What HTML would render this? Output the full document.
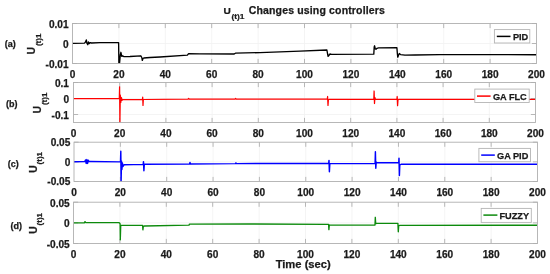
<!DOCTYPE html>
<html><head><meta charset="utf-8"><title>U(t)1 Changes using controllers</title>
<style>
html,body{margin:0;padding:0;background:#fff;}
body{width:550px;height:274px;overflow:hidden;}
svg{display:block;font-family:"Liberation Sans", Arial, Helvetica, sans-serif;font-weight:bold;fill:#1a1a1a;}
text{stroke:#1a1a1a;stroke-width:0.25px;}
</style></head><body>
<svg width="550" height="274" viewBox="0 0 550 274">
<rect width="550" height="274" fill="#fff"/>
<path d="M118.9 23.5V63.5M165.3 23.5V63.5M211.7 23.5V63.5M258.1 23.5V63.5M304.5 23.5V63.5M350.9 23.5V63.5M397.3 23.5V63.5M443.7 23.5V63.5M490.1 23.5V63.5M72.5 43.5H536.5" stroke="#f1f1f1" stroke-width="0.8" fill="none"/>
<path d="M118.9 23.5v4.6M118.9 63.5v-4.6M165.3 23.5v4.6M165.3 63.5v-4.6M211.7 23.5v4.6M211.7 63.5v-4.6M258.1 23.5v4.6M258.1 63.5v-4.6M304.5 23.5v4.6M304.5 63.5v-4.6M350.9 23.5v4.6M350.9 63.5v-4.6M397.3 23.5v4.6M397.3 63.5v-4.6M443.7 23.5v4.6M443.7 63.5v-4.6M490.1 23.5v4.6M490.1 63.5v-4.6M72.5 63.5h4.6M536.5 63.5h-4.6M72.5 43.5h4.6M536.5 43.5h-4.6M72.5 23.5h4.6M536.5 23.5h-4.6" stroke="#b0b0b0" stroke-width="0.9" fill="none"/>
<clipPath id="c0"><rect x="72.5" y="23" width="464" height="41"/></clipPath>
<polyline clip-path="url(#c0)" points="72.5,43.3 84.5,43.1 85.5,42 86.3,40 87,43.5 87.8,44.7 88.5,42 89.3,43.6 90.3,42.6 91.5,43 100,42.7 118.6,42.6 118.9,62.8 119.6,62.8 120.3,55 120.9,52.3 121.8,56.4 122.6,55.9 124,56.6 130,56.5 140.8,55.8 141.8,57.5 142.3,60.4 143,58.5 143.8,58 150,57.5 160,57 187.4,55.2 188.6,53.6 200,53.8 234.2,54 235.4,53.2 260,52.6 300,51.1 326.9,50 327.6,54 328.1,56.4 328.8,55.5 330,54 331.5,54.4 373.8,54.1 374.2,47 374.6,45.8 375.3,48.8 376,49.2 377,48.3 378.5,47.9 396.9,47.7 397.4,54 397.8,57.2 398.6,55 399.3,53.5 400.5,54.6 405,55.2 415,55 440,54.7 536.5,54.7" stroke="#000000" stroke-width="1.35" fill="none" stroke-linejoin="round"/>
<rect x="72.5" y="23.5" width="464" height="40" fill="none" stroke="#b0b0b0" stroke-width="0.9"/>
<rect x="494.4" y="29.6" width="35.4" height="13.4" fill="#fff" stroke="#b4b4b4" stroke-width="0.9"/>
<path d="M496.8 36.4H510.5" stroke="#000000" stroke-width="1.5"/>
<text x="512.9" y="39.8" font-size="9.2">PID</text>
<text x="72.5" y="78.1" font-size="10.1" text-anchor="middle">0</text>
<text x="118.9" y="78.1" font-size="10.1" text-anchor="middle">20</text>
<text x="165.3" y="78.1" font-size="10.1" text-anchor="middle">40</text>
<text x="211.7" y="78.1" font-size="10.1" text-anchor="middle">60</text>
<text x="258.1" y="78.1" font-size="10.1" text-anchor="middle">80</text>
<text x="304.5" y="78.1" font-size="10.1" text-anchor="middle">100</text>
<text x="350.9" y="78.1" font-size="10.1" text-anchor="middle">120</text>
<text x="397.3" y="78.1" font-size="10.1" text-anchor="middle">140</text>
<text x="443.7" y="78.1" font-size="10.1" text-anchor="middle">160</text>
<text x="490.1" y="78.1" font-size="10.1" text-anchor="middle">180</text>
<text x="536.5" y="78.1" font-size="10.1" text-anchor="middle">200</text>
<text x="68.6" y="68.2" font-size="10.1" text-anchor="end">-0.01</text>
<text x="68.6" y="48.2" font-size="10.1" text-anchor="end">0</text>
<text x="68.6" y="28.2" font-size="10.1" text-anchor="end">0.01</text>
<text transform="translate(34.9 54.4) rotate(-90) scale(1 0.97)" font-size="10.4">U</text>
<text transform="translate(40.5 46.1) rotate(-90)" font-size="8">(t)1</text>
<text x="4.8" y="47.4" font-size="9">(a)</text>
<path d="M119.7 82.5V122.5M165.9 82.5V122.5M212.1 82.5V122.5M258.3 82.5V122.5M304.5 82.5V122.5M350.7 82.5V122.5M396.9 82.5V122.5M443.1 82.5V122.5M489.3 82.5V122.5M73.5 114.5H535.5M73.5 98.5H535.5" stroke="#f1f1f1" stroke-width="0.8" fill="none"/>
<path d="M119.7 82.5v4.6M119.7 122.5v-4.6M165.9 82.5v4.6M165.9 122.5v-4.6M212.1 82.5v4.6M212.1 122.5v-4.6M258.3 82.5v4.6M258.3 122.5v-4.6M304.5 82.5v4.6M304.5 122.5v-4.6M350.7 82.5v4.6M350.7 122.5v-4.6M396.9 82.5v4.6M396.9 122.5v-4.6M443.1 82.5v4.6M443.1 122.5v-4.6M489.3 82.5v4.6M489.3 122.5v-4.6M73.5 114.5h4.6M535.5 114.5h-4.6M73.5 98.5h4.6M535.5 98.5h-4.6M73.5 82.5h4.6M535.5 82.5h-4.6" stroke="#b0b0b0" stroke-width="0.9" fill="none"/>
<clipPath id="c1"><rect x="73.5" y="82" width="462" height="41"/></clipPath>
<polyline clip-path="url(#c1)" points="73.5,98.5 119.3,98.5 119.6,86.8 119.9,122.6 120.3,95 120.8,102.5 121.4,97.5 122,100.3 123,99.5 142.4,99.7 142.7,97.2 143,105.4 143.3,100 143.8,99.5 188,99.2 188.6,98.5 189.2,99.2 235,99.1 235.6,98.5 236.2,99.1 327.3,99.2 327.6,96.5 328,105.4 328.4,99.8 329.5,99.3 373.8,99.3 374.1,91 374.5,103.5 374.9,97.5 375.5,99.4 396.9,99.4 397.2,96.5 397.6,105.6 398,99.6 399,99.3 536,99.3" stroke="#ff0000" stroke-width="1.25" fill="none" stroke-linejoin="round"/>
<rect x="73.5" y="82.5" width="462" height="40" fill="none" stroke="#b0b0b0" stroke-width="0.9"/>
<rect x="474.8" y="89.1" width="54.4" height="13.4" fill="#fff" stroke="#b4b4b4" stroke-width="0.9"/>
<path d="M477 96.1H490.6" stroke="#ff0000" stroke-width="1.5"/>
<text x="492.9" y="99.5" font-size="9.2">GA FLC</text>
<text x="73.5" y="137.1" font-size="10.1" text-anchor="middle">0</text>
<text x="119.7" y="137.1" font-size="10.1" text-anchor="middle">20</text>
<text x="165.9" y="137.1" font-size="10.1" text-anchor="middle">40</text>
<text x="212.1" y="137.1" font-size="10.1" text-anchor="middle">60</text>
<text x="258.3" y="137.1" font-size="10.1" text-anchor="middle">80</text>
<text x="304.5" y="137.1" font-size="10.1" text-anchor="middle">100</text>
<text x="350.7" y="137.1" font-size="10.1" text-anchor="middle">120</text>
<text x="396.9" y="137.1" font-size="10.1" text-anchor="middle">140</text>
<text x="443.1" y="137.1" font-size="10.1" text-anchor="middle">160</text>
<text x="489.3" y="137.1" font-size="10.1" text-anchor="middle">180</text>
<text x="535.5" y="137.1" font-size="10.1" text-anchor="middle">200</text>
<text x="69" y="119.2" font-size="10.1" text-anchor="end">-0.1</text>
<text x="69" y="103.2" font-size="10.1" text-anchor="end">0</text>
<text x="69" y="87.2" font-size="10.1" text-anchor="end">0.1</text>
<text transform="translate(40.8 113.4) rotate(-90) scale(1 0.97)" font-size="10.4">U</text>
<text transform="translate(46.7 105.1) rotate(-90)" font-size="8">(t)1</text>
<text x="6" y="107.4" font-size="9">(b)</text>
<path d="M120.35 142.2V181.5M166.7 142.2V181.5M213.05 142.2V181.5M259.4 142.2V181.5M305.75 142.2V181.5M352.1 142.2V181.5M398.45 142.2V181.5M444.8 142.2V181.5M491.15 142.2V181.5M74 161.85H537.5" stroke="#f1f1f1" stroke-width="0.8" fill="none"/>
<path d="M120.35 142.2v4.6M120.35 181.5v-4.6M166.7 142.2v4.6M166.7 181.5v-4.6M213.05 142.2v4.6M213.05 181.5v-4.6M259.4 142.2v4.6M259.4 181.5v-4.6M305.75 142.2v4.6M305.75 181.5v-4.6M352.1 142.2v4.6M352.1 181.5v-4.6M398.45 142.2v4.6M398.45 181.5v-4.6M444.8 142.2v4.6M444.8 181.5v-4.6M491.15 142.2v4.6M491.15 181.5v-4.6M74 181.5h4.6M537.5 181.5h-4.6M74 161.85h4.6M537.5 161.85h-4.6M74 142.2h4.6M537.5 142.2h-4.6" stroke="#b0b0b0" stroke-width="0.9" fill="none"/>
<clipPath id="c2"><rect x="74" y="141.7" width="463.5" height="40.3"/></clipPath>
<polyline clip-path="url(#c2)" points="74,161.7 84.8,161.6 85.5,160 86.2,163.4 86.9,159.6 87.6,163.4 88.3,160.2 89,161.6 90,161.5 120.5,161.9 120.8,151.2 121.1,181.5 121.5,161 121.9,169.5 122.4,163 123,166.5 124,164.8 143.2,164.4 143.5,161.7 143.9,170.8 144.3,164.5 145,164.2 189.6,164 190,162.5 190.5,164 235.5,163.6 235.9,162.9 236.3,163.6 328.7,163.3 329,160.4 329.4,171.8 329.8,164 330.5,163.6 375.1,163.5 375.4,151.8 375.8,168.2 376.2,162 377,162.7 398.7,162.8 399,158.2 399.4,175.5 399.8,164.8 401,164.3 537,164.3" stroke="#0000ff" stroke-width="1.45" fill="none" stroke-linejoin="round"/>
<rect x="74" y="142.2" width="463.5" height="39.3" fill="none" stroke="#b0b0b0" stroke-width="0.9"/>
<rect x="478.9" y="148.4" width="51.6" height="13.3" fill="#fff" stroke="#b4b4b4" stroke-width="0.9"/>
<path d="M481.2 155.1H494.8" stroke="#0000ff" stroke-width="1.5"/>
<text x="497" y="158.5" font-size="9.2">GA PID</text>
<text x="74" y="196" font-size="10.1" text-anchor="middle">0</text>
<text x="120.35" y="196" font-size="10.1" text-anchor="middle">20</text>
<text x="166.7" y="196" font-size="10.1" text-anchor="middle">40</text>
<text x="213.05" y="196" font-size="10.1" text-anchor="middle">60</text>
<text x="259.4" y="196" font-size="10.1" text-anchor="middle">80</text>
<text x="305.75" y="196" font-size="10.1" text-anchor="middle">100</text>
<text x="352.1" y="196" font-size="10.1" text-anchor="middle">120</text>
<text x="398.45" y="196" font-size="10.1" text-anchor="middle">140</text>
<text x="444.8" y="196" font-size="10.1" text-anchor="middle">160</text>
<text x="491.15" y="196" font-size="10.1" text-anchor="middle">180</text>
<text x="537.5" y="196" font-size="10.1" text-anchor="middle">200</text>
<text x="70.3" y="185.3" font-size="10.1" text-anchor="end">-0.05</text>
<text x="70.3" y="165.65" font-size="10.1" text-anchor="end">0</text>
<text x="70.3" y="146" font-size="10.1" text-anchor="end">0.05</text>
<text transform="translate(36.8 172.75) rotate(-90) scale(1 1)" font-size="10.4">U</text>
<text transform="translate(41.8 164.45) rotate(-90)" font-size="8">(t)1</text>
<text x="7.8" y="166.6" font-size="9">(c)</text>
<path d="M119.9 202.2V243.5M166.3 202.2V243.5M212.7 202.2V243.5M259.1 202.2V243.5M305.5 202.2V243.5M351.9 202.2V243.5M398.3 202.2V243.5M444.7 202.2V243.5M491.1 202.2V243.5M73.5 222.85H537.5" stroke="#f1f1f1" stroke-width="0.8" fill="none"/>
<path d="M119.9 202.2v4.6M119.9 243.5v-4.6M166.3 202.2v4.6M166.3 243.5v-4.6M212.7 202.2v4.6M212.7 243.5v-4.6M259.1 202.2v4.6M259.1 243.5v-4.6M305.5 202.2v4.6M305.5 243.5v-4.6M351.9 202.2v4.6M351.9 243.5v-4.6M398.3 202.2v4.6M398.3 243.5v-4.6M444.7 202.2v4.6M444.7 243.5v-4.6M491.1 202.2v4.6M491.1 243.5v-4.6M73.5 243.5h4.6M537.5 243.5h-4.6M73.5 222.85h4.6M537.5 222.85h-4.6M73.5 202.2h4.6M537.5 202.2h-4.6" stroke="#b0b0b0" stroke-width="0.9" fill="none"/>
<clipPath id="c3"><rect x="73.5" y="201.7" width="464" height="42.3"/></clipPath>
<polyline clip-path="url(#c3)" points="73.5,222.8 84.3,222.8 85,221.6 85.8,222.6 118.5,222.6 119.5,222.9 120.1,223.8 120.3,239.8 120.7,226 121.5,225.3 142.6,225.3 142.9,229.8 143.3,226.3 144.5,226 189,225.1 189.5,224.1 250,224 328.6,224.4 328.9,229.6 329.3,225.2 375,225 375.3,217.3 375.7,223.5 377,223.3 397.9,223.3 398.3,231.8 398.7,225.6 400,225.3 537,225.2" stroke="#0c8a0c" stroke-width="1.35" fill="none" stroke-linejoin="round"/>
<rect x="73.5" y="202.2" width="464" height="41.3" fill="none" stroke="#b0b0b0" stroke-width="0.9"/>
<rect x="481.2" y="208.4" width="50.1" height="14" fill="#fff" stroke="#b4b4b4" stroke-width="0.9"/>
<path d="M483.4 215.1H497.4" stroke="#0c8a0c" stroke-width="1.5"/>
<text x="499.5" y="218.8" font-size="9.2">FUZZY</text>
<text x="73.5" y="258.2" font-size="10.1" text-anchor="middle">0</text>
<text x="119.9" y="258.2" font-size="10.1" text-anchor="middle">20</text>
<text x="166.3" y="258.2" font-size="10.1" text-anchor="middle">40</text>
<text x="212.7" y="258.2" font-size="10.1" text-anchor="middle">60</text>
<text x="259.1" y="258.2" font-size="10.1" text-anchor="middle">80</text>
<text x="305.5" y="258.2" font-size="10.1" text-anchor="middle">100</text>
<text x="351.9" y="258.2" font-size="10.1" text-anchor="middle">120</text>
<text x="398.3" y="258.2" font-size="10.1" text-anchor="middle">140</text>
<text x="444.7" y="258.2" font-size="10.1" text-anchor="middle">160</text>
<text x="491.1" y="258.2" font-size="10.1" text-anchor="middle">180</text>
<text x="537.5" y="258.2" font-size="10.1" text-anchor="middle">200</text>
<text x="69.7" y="247.8" font-size="10.1" text-anchor="end">-0.05</text>
<text x="69.7" y="227.15" font-size="10.1" text-anchor="end">0</text>
<text x="69.7" y="206.5" font-size="10.1" text-anchor="end">0.05</text>
<text transform="translate(37.1 233.75) rotate(-90) scale(1 1.05)" font-size="10.4">U</text>
<text transform="translate(42 225.45) rotate(-90)" font-size="8">(t)1</text>
<text x="10.6" y="229.2" font-size="9">(d)</text>
<text transform="translate(223.6 14) scale(1 0.96)" font-size="10.1">U</text>
<text transform="translate(231.4 19.1) scale(1 0.84)" font-size="8.4">(t)1</text>
<text x="248.7" y="14" font-size="10.5" textLength="136.2">Changes using controllers</text>
<text x="303.2" y="268" font-size="11.2" text-anchor="middle">Time (sec)</text>
</svg>
</body></html>
